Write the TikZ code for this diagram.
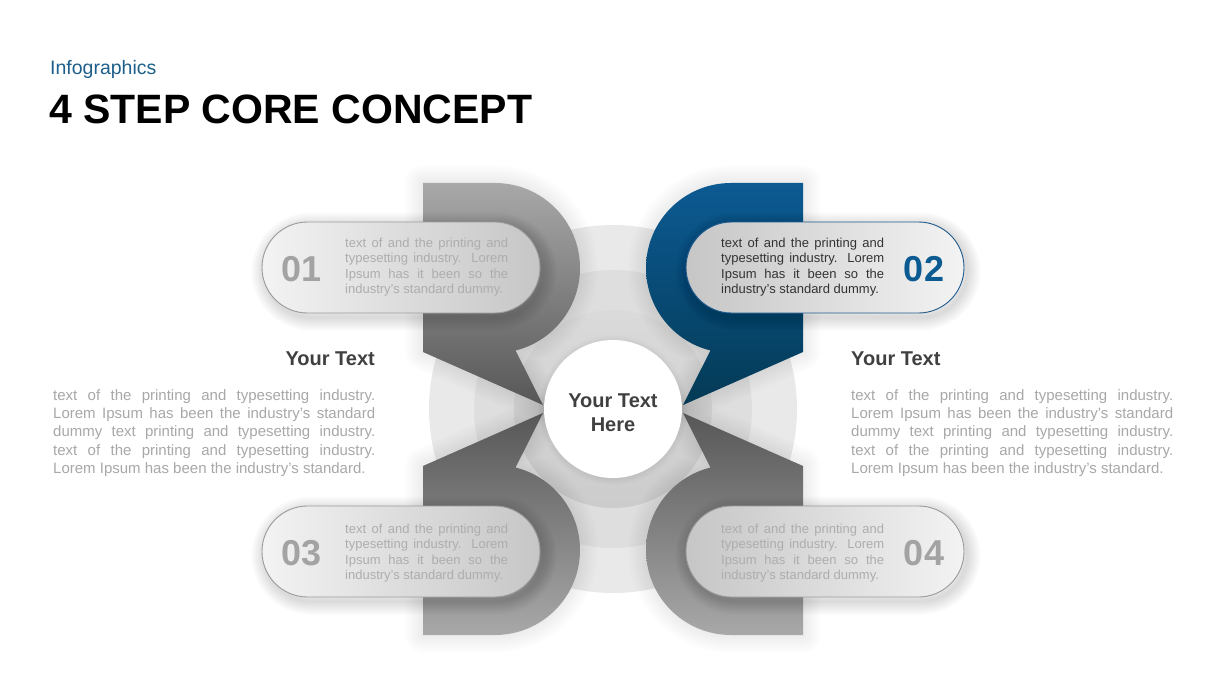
\documentclass[tikz,border=0pt]{standalone}
\usepackage{fontspec}
\setmainfont{Liberation Sans}
\definecolor{ring1}{HTML}{E9E9E9}
\definecolor{ring2}{HTML}{DEDEDE}
\definecolor{ring3a}{HTML}{DADADA}
\definecolor{ring3b}{HTML}{CCCCCC}
\definecolor{grayTop}{HTML}{A8A8A8}
\definecolor{grayBot}{HTML}{575757}
\definecolor{blueTop}{HTML}{0C5A93}
\definecolor{blueBot}{HTML}{043A55}
\definecolor{pillLight}{HTML}{F3F3F3}
\definecolor{pillDark}{HTML}{C6C6C6}
\definecolor{pillBorder}{HTML}{9A9A9A}
\definecolor{pillBlue}{HTML}{1F5A8C}
\definecolor{numGray}{HTML}{A3A3A3}
\definecolor{numBlue}{HTML}{0B5A91}
\definecolor{lightTxt}{HTML}{ADADAD}
\definecolor{darkTxt}{HTML}{333333}
\definecolor{headTxt}{HTML}{404040}
\definecolor{paraTxt}{HTML}{A8A8A8}
\definecolor{titleBlue}{HTML}{1F5F8B}
\newcommand\fsz[2]{\fontsize{#1}{#2}\selectfont}
\newcommand\pTL{(423,183) -- (495,183) arc[start angle=-90,end angle=76,radius=85] -- (543,405) -- (423,352) -- cycle}
\newcommand\pTR{(803,183) -- (731,183) arc[start angle=270,end angle=104,radius=85] -- (683,405) -- (803,352) -- cycle}
\newcommand\pBL{(423,635) -- (495,635) arc[start angle=90,end angle=-76,radius=85] -- (543,413) -- (423,466) -- cycle}
\newcommand\pBR{(803,635) -- (731,635) arc[start angle=90,end angle=256,radius=85] -- (683,413) -- (803,466) -- cycle}
\newcommand\pillText{text of and the printing and\linebreak typesetting industry. Lorem\linebreak Ipsum has it been so the\linebreak industry's standard dummy.}
\newcommand\paraText{text of the printing and typesetting industry.\linebreak Lorem Ipsum has been the industry's standard\linebreak dummy text printing and typesetting industry.\linebreak text of the printing and typesetting industry.\linebreak Lorem Ipsum has been the industry's standard.}
\tikzset{
  halo/.style={draw=black, opacity=0.007, line join=round},
  pillhalo/.style={draw=black, opacity=0.014, rounded corners=45.5},
  pillbox/.style={line width=0.9, rounded corners=45.5},
  pilltxt/.style={anchor=base west, inner sep=0},
  numtxt/.style={anchor=base, inner sep=0, font=\fsz{36}{36}\bfseries},
  headtxt/.style={inner sep=0, text=headTxt, font=\fsz{20}{24}\bfseries},
  paratxt/.style={anchor=base west, inner sep=0, text=paraTxt}
}
\begin{document}
\begin{tikzpicture}[x=1pt,y=-1pt]
\useasboundingbox (0,0) rectangle (1227,690);
\fill[white] (0,0) rectangle (1227,690);
% concentric rings
\fill[ring1] (613,409) circle[radius=184];
\fill[ring2] (613,409) circle[radius=139];
\shade[top color=ring3a,bottom color=ring3b] (613,409) circle[radius=99];
% soft halos of the hooks
\foreach \w in {4,8,...,36}{
  \draw[halo, line width=\w] \pTL;
  \draw[halo, line width=\w] \pTR;
  \draw[halo, line width=\w] \pBL;
  \draw[halo, line width=\w] \pBR;
}
% hooks
\shade[top color=grayTop, bottom color=grayBot] \pTL;
\shade[top color=blueTop, bottom color=blueBot] \pTR;
\shade[top color=grayBot, bottom color=grayTop] \pBL;
\shade[top color=grayBot, bottom color=grayTop] \pBR;
% centre circle
\foreach \w in {2,4,...,12}{\draw[halo, line width=\w] (613,410) circle[radius=69];}
\fill[white] (613,409) circle[radius=69];
% pill halos
\foreach \w in {3,6,...,27}{
  \draw[pillhalo, line width=\w] (265,226) rectangle (543,317);
  \draw[pillhalo, line width=\w] (689,226) rectangle (967,317);
  \draw[pillhalo, line width=\w] (265,510) rectangle (543,601);
  \draw[pillhalo, line width=\w] (689,510) rectangle (967,601);
}
% pills
\draw[pillbox, draw=pillBorder, left color=pillLight, right color=pillDark] (262,222) rectangle (540,313);
\draw[pillbox, draw=pillBlue, left color=pillDark, right color=pillLight] (686,222) rectangle (964,313);
\draw[pillbox, draw=pillBorder, left color=pillLight, right color=pillDark] (262,506) rectangle (540,597);
\draw[pillbox, draw=pillBorder, left color=pillDark, right color=pillLight] (686,506) rectangle (964,597);
% pill texts
\node[pilltxt, text=lightTxt] (t1) at (345,247.5) {\parbox[t]{163pt}{\fsz{13}{15.3}\pillText}};
\node[pilltxt, text=darkTxt] (t2) at (721,247.5) {\parbox[t]{163pt}{\fsz{13}{15.3}\pillText}};
\node[pilltxt, text=lightTxt] (t3) at (345,533.5) {\parbox[t]{163pt}{\fsz{13}{15.3}\pillText}};
\node[pilltxt, text=lightTxt] (t4) at (721,533.5) {\parbox[t]{163pt}{\fsz{13}{15.3}\pillText}};
% numbers
\node[numtxt, text=numGray] (n1) at (302,281) {01};
\node[numtxt, text=numBlue] (n2) at (924,281) {02};
\node[numtxt, text=numGray] (n3) at (302,565) {03};
\node[numtxt, text=numGray] (n4) at (924,565) {04};
% centre text
\node[headtxt, anchor=base] (c1) at (613,407) {Your Text};
\node[headtxt, anchor=base] (c2) at (613,431) {Here};
% side headings
\node[headtxt, anchor=base east] (h1) at (375,365) {Your Text};
\node[headtxt, anchor=base west] (h2) at (851,365) {Your Text};
% side paragraphs
\node[paratxt] (p1) at (53,400) {\parbox[t]{322pt}{\fsz{15}{18.4}\paraText}};
\node[paratxt] (p2) at (851,400) {\parbox[t]{322pt}{\fsz{15}{18.4}\paraText}};
% title
\node[anchor=base west, inner sep=0, text=titleBlue, font=\fsz{19.5}{22}] (sub) at (50,75) {Infographics};
\node[anchor=base west, inner sep=0, text=black, font=\fsz{41}{46}\bfseries] (title) at (49,124) {4 STEP CORE CONCEPT};
\end{tikzpicture}
\end{document}
